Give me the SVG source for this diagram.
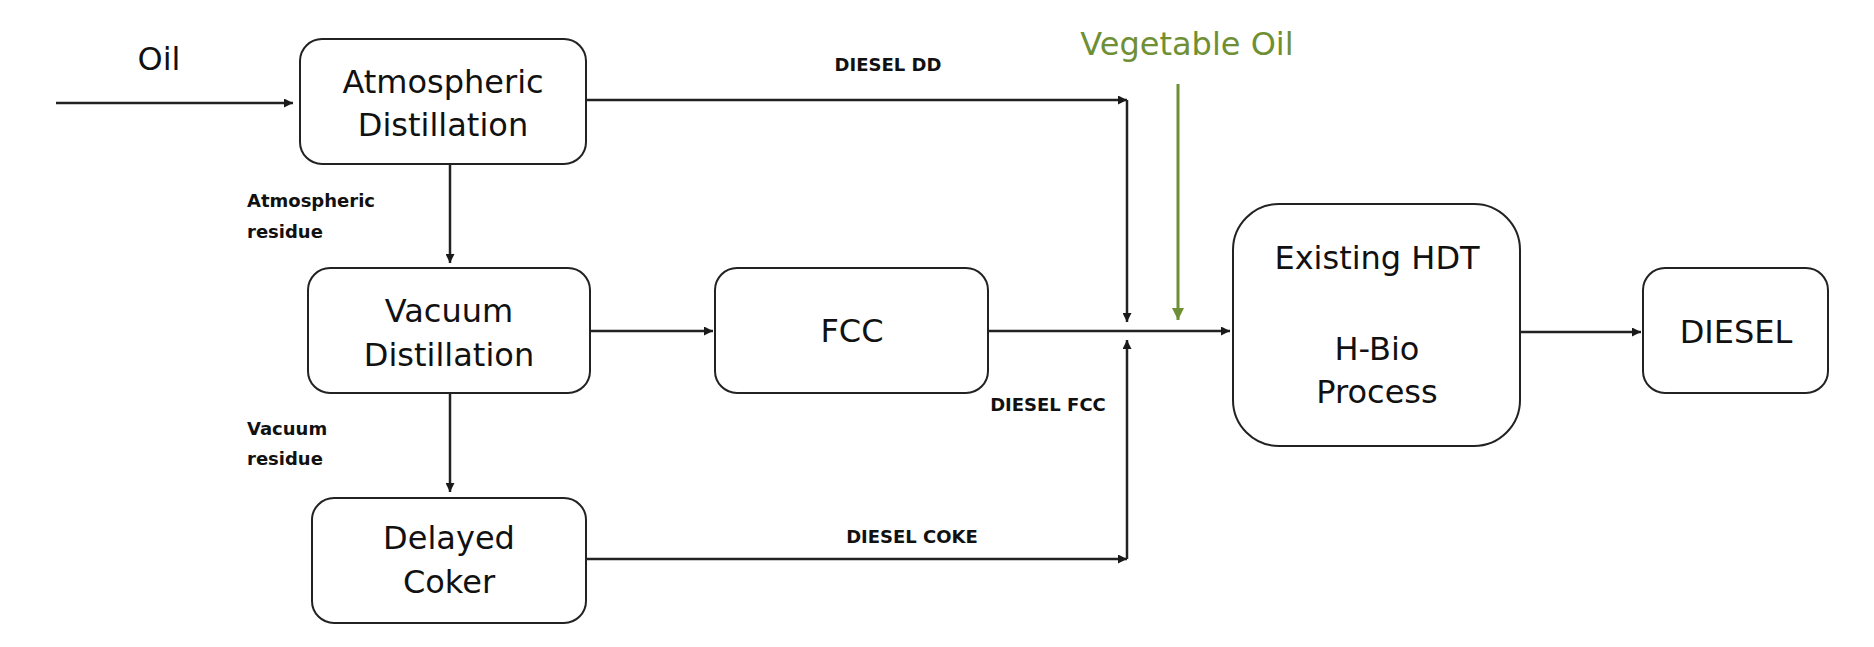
<svg xmlns="http://www.w3.org/2000/svg" width="1874" height="647" viewBox="0 0 1874 647">
<defs>
<marker id="ah" viewBox="0 0 10 10" refX="10" refY="5" markerWidth="9" markerHeight="9" markerUnits="userSpaceOnUse" orient="auto"><path d="M0,0 L10,5 L0,10 z" fill="#1a1a1a"/></marker>
<marker id="ahg" viewBox="0 0 10 10" refX="10" refY="5" markerWidth="12" markerHeight="12" markerUnits="userSpaceOnUse" orient="auto"><path d="M0,0 L10,5 L0,10 z" fill="#6f8f35"/></marker>
</defs>
<style>
.box{fill:#fff;stroke:#222;stroke-width:2}
.t{font-family:"DejaVu Sans",sans-serif;font-size:32px;fill:#111;text-anchor:middle}
.s{font-family:"DejaVu Sans",sans-serif;font-size:18px;font-weight:bold;fill:#111}
.c{stroke:#222;stroke-width:2.5;fill:none}
.a{marker-end:url(#ah)}
</style>
<rect width="1874" height="647" fill="#fff"/>
<g id="connectors">
<path class="c a" d="M56,103 H293"/>
<path class="c a" d="M450,164 V263"/>
<path class="c a" d="M450,393 V492"/>
<path class="c a" d="M590,331 H713"/>
<path class="c a" d="M586,100 H1127"/>
<path class="c a" d="M1127,100 V322"/>
<path class="c a" d="M586,559 H1127"/>
<path class="c a" d="M1127,559 V340"/>
<path class="c a" d="M988,331 H1230"/>
<path class="c a" d="M1520,332 H1641"/>
<path d="M1178,84 V320" stroke="#6f8f35" stroke-width="3" marker-end="url(#ahg)"/>
<text class="s" x="247" y="207">Atmospheric</text>
<text class="s" x="247" y="238">residue</text>
<text class="s" x="247" y="435">Vacuum</text>
<text class="s" x="247" y="465">residue</text>
<text class="s" x="888" y="71" text-anchor="middle">DIESEL DD</text>
<text class="s" x="1048" y="411" text-anchor="middle">DIESEL FCC</text>
<text class="s" x="912" y="543" text-anchor="middle">DIESEL COKE</text>
<text class="t" x="159" y="70" font-size="30">Oil</text>
<text class="t" x="1187" y="55" style="fill:#6f8f35;font-size:32px">Vegetable Oil</text>
</g>
<g id="atm"><rect class="box" x="300" y="39" width="286" height="125" rx="22"/><text class="t" x="443" y="93">Atmospheric</text><text class="t" x="443" y="136">Distillation</text></g>
<g id="vac"><rect class="box" x="308" y="268" width="282" height="125" rx="22"/><text class="t" x="449" y="322">Vacuum</text><text class="t" x="449" y="366">Distillation</text></g>
<g id="coker"><rect class="box" x="312" y="498" width="274" height="125" rx="22"/><text class="t" x="449" y="549">Delayed</text><text class="t" x="449" y="593">Coker</text></g>
<g id="fcc"><rect class="box" x="715" y="268" width="273" height="125" rx="22"/><text class="t" x="852" y="342">FCC</text></g>
<g id="hdt"><rect class="box" x="1233" y="204" width="287" height="242" rx="46"/><text class="t" x="1377" y="269">Existing HDT</text><text class="t" x="1377" y="360">H-Bio</text><text class="t" x="1377" y="403">Process</text></g>
<g id="diesel"><rect class="box" x="1643" y="268" width="185" height="125" rx="22"/><text class="t" x="1736" y="343">DIESEL</text></g>
</svg>
